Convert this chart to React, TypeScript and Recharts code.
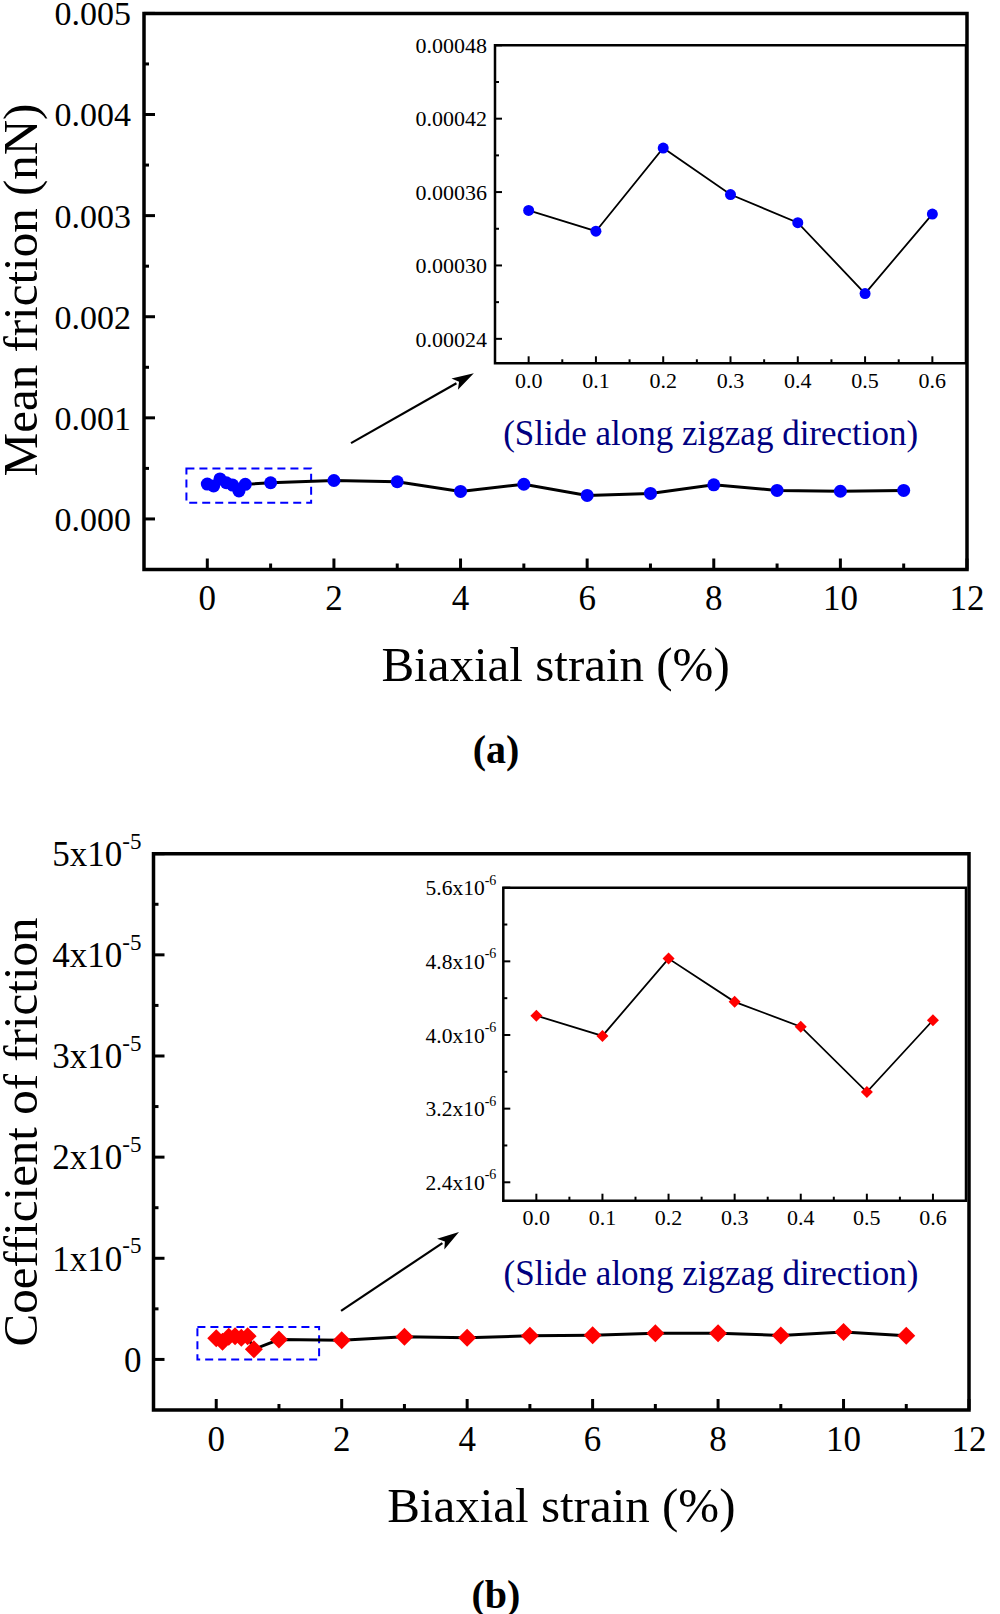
import React from 'react';
import { LineChart, Line, XAxis, YAxis, ReferenceArea, ReferenceLine } from 'recharts';

// ---------- data ----------
const strain = [0, 0.1, 0.2, 0.3, 0.4, 0.5, 0.6, 1, 2, 3, 4, 5, 6, 7, 8, 9, 10, 11];
const meanFriction = [0.000345, 0.000327, 0.000396, 0.000358, 0.000335, 0.000277, 0.000342, 0.000358, 0.00038, 0.000368, 0.000272, 0.000343, 0.000233, 0.000252, 0.000337, 0.000282, 0.000274, 0.000282];
const cof = [2.1e-6, 1.75e-6, 2.25e-6, 2.3e-6, 2.15e-6, 2.3e-6, 1.0e-6, 1.97e-6, 1.9e-6, 2.25e-6, 2.15e-6, 2.33e-6, 2.4e-6, 2.6e-6, 2.6e-6, 2.37e-6, 2.7e-6, 2.33e-6];

const insetStrain = [0, 0.1, 0.2, 0.3, 0.4, 0.5, 0.6];
const insetFriction = [0.000345, 0.000328, 0.000396, 0.000358, 0.000335, 0.000277, 0.000342];
const insetCof = [4.21e-6, 3.99e-6, 4.83e-6, 4.36e-6, 4.09e-6, 3.38e-6, 4.16e-6];

// ---------- ticks ----------
const mainXMajor = [0, 2, 4, 6, 8, 10, 12];
const mainXLabels = ['0', '2', '4', '6', '8', '10', '12'];
const mainXMinor = [1, 3, 5, 7, 9, 11];

const aYMajor = [0, 0.001, 0.002, 0.003, 0.004, 0.005];
const aYLabels = ['0.000', '0.001', '0.002', '0.003', '0.004', '0.005'];
const aYMinor = [0.0005, 0.0015, 0.0025, 0.0035, 0.0045];

const bYMajor = [0, 1e-5, 2e-5, 3e-5, 4e-5, 5e-5];
const bYMantissa = ['0', '1x10', '2x10', '3x10', '4x10', '5x10'];
const bYExponent = ['', '-5', '-5', '-5', '-5', '-5'];
const bYMinor = [0.5e-5, 1.5e-5, 2.5e-5, 3.5e-5, 4.5e-5];

const insetXMajor = [0, 0.1, 0.2, 0.3, 0.4, 0.5, 0.6];
const insetXLabels = ['0.0', '0.1', '0.2', '0.3', '0.4', '0.5', '0.6'];
const insetXMinor = [0.05, 0.15, 0.25, 0.35, 0.45, 0.55];

const aInsetYMajor = [0.00024, 0.0003, 0.00036, 0.00042, 0.00048];
const aInsetYLabels = ['0.00024', '0.00030', '0.00036', '0.00042', '0.00048'];
const aInsetYMinor = [0.00027, 0.00033, 0.00039, 0.00045];

const bInsetYMajor = [2.4e-6, 3.2e-6, 4.0e-6, 4.8e-6, 5.6e-6];
const bInsetYMantissa = ['2.4x10', '3.2x10', '4.0x10', '4.8x10', '5.6x10'];
const bInsetYExponent = ['-6', '-6', '-6', '-6', '-6'];
const bInsetYMinor = [2.8e-6, 3.6e-6, 4.4e-6, 5.2e-6];

const FONT = "'Liberation Serif', 'Times New Roman', serif";

const idxOf = (arr: number[], v: number) =>
  arr.findIndex((t) => Math.abs(t - v) <= Math.abs(t) * 1e-6 + 1e-15);

const merge = (a: number[], b: number[]) => [...a, ...b].sort((p, q) => p - q);

type TickCfg = {
  major: number[];
  render: (i: number) => React.ReactNode;
  majLen: number;
  minLen: number;
  gap: number;
  fs: number;
  sw: number;
};

const makeXTick = (cfg: TickCfg) => (props: any) => {
  const { x, y, payload } = props;
  const i = idxOf(cfg.major, payload.value);
  const isMaj = i >= 0;
  return (
    <g key={`xt-${payload.value}`}>
      <line x1={x} x2={x} y1={y} y2={y - (isMaj ? cfg.majLen : cfg.minLen)} stroke="#000" strokeWidth={cfg.sw} />
      {isMaj && (
        <text x={x} y={y + cfg.gap} dy="0.35em" textAnchor="middle" fontSize={cfg.fs} fontFamily={FONT} fill="#000">
          {cfg.render(i)}
        </text>
      )}
    </g>
  );
};

const makeYTick = (cfg: TickCfg) => (props: any) => {
  const { x, y, payload } = props;
  const i = idxOf(cfg.major, payload.value);
  const isMaj = i >= 0;
  return (
    <g key={`yt-${payload.value}`}>
      <line x1={x} x2={x + (isMaj ? cfg.majLen : cfg.minLen)} y1={y} y2={y} stroke="#000" strokeWidth={cfg.sw} />
      {isMaj && (
        <text x={x - cfg.gap} y={y} dy="0.35em" textAnchor="end" fontSize={cfg.fs} fontFamily={FONT} fill="#000">
          {cfg.render(i)}
        </text>
      )}
    </g>
  );
};

const sup = (m: string, e: string, fs: number) => (
  <>
    <tspan>{m}</tspan>
    {e && (
      <tspan fontSize={fs} dy={-fs * 0.75}>
        {e}
      </tspan>
    )}
  </>
);

const arrowShape = (props: any) => {
  const { x1, y1, x2, y2 } = props;
  if ([x1, y1, x2, y2].some((v) => v == null || isNaN(v))) return <g />;
  const dx = x2 - x1;
  const dy = y2 - y1;
  const len = Math.sqrt(dx * dx + dy * dy);
  const ux = dx / len;
  const uy = dy / len;
  const hl = 22;
  const hw = 6.5;
  const bx = x2 - ux * hl;
  const by = y2 - uy * hl;
  return (
    <g>
      <line x1={x1} y1={y1} x2={bx + ux * 2} y2={by + uy * 2} stroke="#000" strokeWidth={2.2} />
      <polygon
        points={`${x2},${y2} ${bx - uy * hw},${by + ux * hw} ${bx + ux * 5},${by + uy * 5} ${bx + uy * hw},${by - ux * hw}`}
        fill="#000"
      />
    </g>
  );
};

const diamond = (h: number) => (p: any) => {
  if (p.cx == null || p.cy == null) return <g key={`dd-${p.index}`} />;
  return (
    <path
      key={`d-${p.index}`}
      d={`M${p.cx},${p.cy - h}L${p.cx + h},${p.cy}L${p.cx},${p.cy + h}L${p.cx - h},${p.cy}Z`}
      fill="#FF0000"
    />
  );
};

const dataA = strain.map((x, i) => ({ x, y: meanFriction[i] }));
const dataB = strain.map((x, i) => ({ x, y: cof[i] }));
const dataAi = insetStrain.map((x, i) => ({ x, y: insetFriction[i] }));
const dataBi = insetStrain.map((x, i) => ({ x, y: insetCof[i] }));

const mainXTick = makeXTick({ major: mainXMajor, render: (i) => mainXLabels[i], majLen: 11, minLen: 6, gap: 28.5, fs: 35, sw: 3 });
const insetXTick = makeXTick({ major: insetXMajor, render: (i) => insetXLabels[i], majLen: 7, minLen: 4, gap: 17, fs: 22, sw: 2 });
const aYTick = makeYTick({ major: aYMajor, render: (i) => aYLabels[i], majLen: 11, minLen: 5, gap: 13, fs: 34, sw: 3 });
const bYTick = makeYTick({ major: bYMajor, render: (i) => sup(bYMantissa[i], bYExponent[i], 23), majLen: 11, minLen: 5, gap: 12, fs: 35, sw: 3 });
const aInYTick = makeYTick({ major: aInsetYMajor, render: (i) => aInsetYLabels[i], majLen: 7, minLen: 4, gap: 8, fs: 22, sw: 2 });
const bInYTick = makeYTick({ major: bInsetYMajor, render: (i) => sup(bInsetYMantissa[i], bInsetYExponent[i], 14), majLen: 7, minLen: 4, gap: 7, fs: 21.5, sw: 2 });

const abs = (left: number, top: number): React.CSSProperties => ({ position: 'absolute', left, top });

export default function App() {
  return (
    <div style={{ position: 'absolute', left: 0, top: 0, width: 1000, height: 1614, background: '#fff', fontFamily: FONT }}>
      {/* ---------- (a) main ---------- */}
      <div style={abs(0, 0)}>
        <LineChart width={1000} height={700} data={dataA} margin={{ top: 13.4, right: 33, left: 0, bottom: 100.5 }} style={{ overflow: 'visible' }}>
          <XAxis dataKey="x" type="number" domain={[-1, 12]} allowDataOverflow ticks={merge(mainXMajor, mainXMinor)} interval={0} tickLine={false} axisLine={false} tickSize={0} tickMargin={0} height={30} tick={mainXTick} />
          <YAxis type="number" domain={[-0.0005, 0.005]} allowDataOverflow ticks={merge(aYMajor, aYMinor)} interval={0} tickLine={false} axisLine={false} tickSize={0} tickMargin={0} width={144} tick={aYTick} />
          <ReferenceArea x1={-1} x2={12} y1={-0.0005} y2={0.005} fill="none" stroke="#000" strokeWidth={3.5} ifOverflow="visible" />
          <ReferenceArea x1={-0.33} x2={1.64} y1={0.00016} y2={0.0005} fill="none" fillOpacity={0} stroke="#0000FF" strokeWidth={2} strokeDasharray="8 5" ifOverflow="visible" />
          <ReferenceLine segment={[{ x: 2.27, y: 0.00075 }, { x: 4.21, y: 0.00144 }]} shape={arrowShape} ifOverflow="visible" />
          <Line dataKey="y" stroke="#000" strokeWidth={3} dot={{ r: 6.5, fill: '#0000FF', stroke: 'none' }} isAnimationActive={false} />
        </LineChart>
      </div>
      {/* ---------- (a) inset ---------- */}
      <div style={abs(380, 20)}>
        <LineChart width={600} height={400} data={dataAi} margin={{ top: 25.3, right: 14, left: 0, bottom: 16.7 }}>
          <XAxis dataKey="x" type="number" domain={[-0.05, 0.65]} allowDataOverflow ticks={merge(insetXMajor, insetXMinor)} interval={0} tickLine={false} axisLine={false} tickSize={0} tickMargin={0} height={40} tick={insetXTick} />
          <YAxis type="number" domain={[0.00022, 0.00048]} allowDataOverflow ticks={merge(aInsetYMajor, aInsetYMinor)} interval={0} tickLine={false} axisLine={false} tickSize={0} tickMargin={0} width={115} tick={aInYTick} />
          <ReferenceArea x1={-0.05} x2={0.65} y1={0.00022} y2={0.00048} fill="none" stroke="#000" strokeWidth={2.5} ifOverflow="visible" />
          <Line dataKey="y" stroke="#000" strokeWidth={1.8} dot={{ r: 5.5, fill: '#0000FF', stroke: 'none' }} isAnimationActive={false} />
        </LineChart>
      </div>

      {/* ---------- (b) main ---------- */}
      <div style={abs(0, 800)}>
        <LineChart width={1000} height={700} data={dataB} margin={{ top: 53.7, right: 31, left: 0, bottom: 60 }}>
          <XAxis dataKey="x" type="number" domain={[-1, 12]} allowDataOverflow ticks={merge(mainXMajor, mainXMinor)} interval={0} tickLine={false} axisLine={false} tickSize={0} tickMargin={0} height={30} tick={mainXTick} />
          <YAxis type="number" domain={[-0.5e-5, 5e-5]} allowDataOverflow ticks={merge(bYMajor, bYMinor)} interval={0} tickLine={false} axisLine={false} tickSize={0} tickMargin={0} width={153.5} tick={bYTick} />
          <ReferenceArea x1={-1} x2={12} y1={-0.5e-5} y2={5e-5} fill="none" stroke="#000" strokeWidth={3.5} ifOverflow="visible" />
          <ReferenceArea x1={-0.3} x2={1.64} y1={0} y2={3.2e-6} fill="none" fillOpacity={0} stroke="#0000FF" strokeWidth={2} strokeDasharray="8 5" ifOverflow="visible" />
          <ReferenceLine segment={[{ x: 1.99, y: 4.8e-6 }, { x: 3.87, y: 1.26e-5 }]} shape={arrowShape} ifOverflow="visible" />
          <Line dataKey="y" stroke="#000" strokeWidth={3} dot={diamond(9)} isAnimationActive={false} />
        </LineChart>
      </div>
      {/* ---------- (b) inset ---------- */}
      <div style={abs(380, 860)}>
        <LineChart width={600} height={400} data={dataBi} margin={{ top: 27.7, right: 14, left: 0, bottom: 19.3 }}>
          <XAxis dataKey="x" type="number" domain={[-0.05, 0.65]} allowDataOverflow ticks={merge(insetXMajor, insetXMinor)} interval={0} tickLine={false} axisLine={false} tickSize={0} tickMargin={0} height={40} tick={insetXTick} />
          <YAxis type="number" domain={[2.2e-6, 5.6e-6]} allowDataOverflow ticks={merge(bInsetYMajor, bInsetYMinor)} interval={0} tickLine={false} axisLine={false} tickSize={0} tickMargin={0} width={123.3} tick={bInYTick} />
          <ReferenceArea x1={-0.05} x2={0.65} y1={2.2e-6} y2={5.6e-6} fill="none" stroke="#000" strokeWidth={2.5} ifOverflow="visible" />
          <Line dataKey="y" stroke="#000" strokeWidth={1.8} dot={diamond(6)} isAnimationActive={false} />
        </LineChart>
      </div>

      {/* ---------- titles & annotations ---------- */}
      <svg width={1000} height={1614} style={{ position: 'absolute', left: 0, top: 0, pointerEvents: 'none' }}>
        <g fontFamily={FONT} fill="#000">
          <text x={20} y={290} dy="0.35em" fontSize={49} textAnchor="middle" transform="rotate(-90 20 290)">
            Mean friction (nN)
          </text>
          <text x={555.6} y={664} dy="0.35em" fontSize={49} textAnchor="middle">
            Biaxial strain (%)
          </text>
          <text x={710.7} y={432.5} dy="0.35em" fontSize={35} textAnchor="middle" fill="#000080">
            (Slide along zigzag direction)
          </text>
          <text x={496} y={749} dy="0.35em" fontSize={40} fontWeight="bold" textAnchor="middle">
            (a)
          </text>

          <text x={20} y={1132} dy="0.35em" fontSize={49} textAnchor="middle" transform="rotate(-90 20 1132)">
            Coefficient of friction
          </text>
          <text x={561.3} y={1504.7} dy="0.35em" fontSize={49} textAnchor="middle">
            Biaxial strain (%)
          </text>
          <text x={711} y={1273} dy="0.35em" fontSize={35} textAnchor="middle" fill="#000080">
            (Slide along zigzag direction)
          </text>
          <text x={496} y={1594} dy="0.35em" fontSize={40} fontWeight="bold" textAnchor="middle">
            (b)
          </text>
        </g>
      </svg>
    </div>
  );
}
